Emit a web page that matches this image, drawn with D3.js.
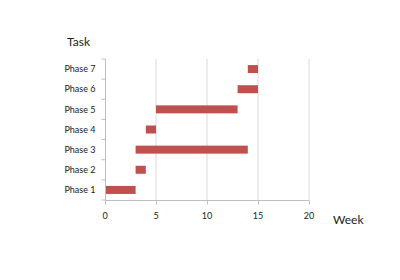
<!DOCTYPE html>
<html lang="en">
<head>
    <meta charset="UTF-8">
    <title>Task Gantt</title>
    <script src="https://d3js.org/d3.v7.min.js"></script>
    <style>
        body { margin: 0; background: #fff; }
        text { font-family: Lato, "Open Sans", sans-serif; fill: #222; }
    </style>
</head>
<body>
    <div id="chart"></div>
    <script>
        // Gantt data: start week and end week per phase
        const tasks = ['Phase 1', 'Phase 2', 'Phase 3', 'Phase 4', 'Phase 5', 'Phase 6', 'Phase 7'];
        const starts = [0, 3, 3, 4, 5, 13, 14];
        const ends = [3, 4, 14, 5, 13, 15, 15];
        const weekTicks = [0, 5, 10, 15, 20];

        const width = 400, height = 280;
        const margin = { left: 105, right: 91, top: 59, bottom: 80 };

        const svg = d3.select('#chart').append('svg')
            .attr('width', width)
            .attr('height', height);

        const x = d3.scaleLinear()
            .domain([0, 20])
            .range([margin.left, width - margin.right]);

        const y = d3.scaleBand()
            .domain(tasks.slice().reverse())
            .range([margin.top, height - margin.bottom]);

        // vertical gridlines
        svg.append('g')
            .selectAll('line')
            .data(weekTicks.slice(1))
            .enter()
            .append('line')
            .attr('x1', d => x(d)).attr('x2', d => x(d))
            .attr('y1', margin.top).attr('y2', height - margin.bottom)
            .attr('stroke', '#d9d9d9')
            .attr('stroke-width', 1);

        // bars
        const barH = 8;
        svg.append('g')
            .selectAll('rect')
            .data(tasks)
            .enter()
            .append('rect')
            .attr('x', (d, i) => x(starts[i]))
            .attr('width', (d, i) => x(ends[i]) - x(starts[i]))
            .attr('y', d => y(d) + y.bandwidth() / 2 - barH / 2)
            .attr('height', barH)
            .attr('fill', '#c0504d');

        // y axis
        const yAxisG = svg.append('g')
            .attr('transform', `translate(${margin.left + 0.5},0)`);
        yAxisG.append('line')
            .attr('y1', margin.top).attr('y2', height - margin.bottom)
            .attr('stroke', '#bfbfbf');
        yAxisG.selectAll('.tick')
            .data(d3.range(tasks.length + 1))
            .enter()
            .append('line')
            .attr('x1', -4).attr('x2', 0)
            .attr('y1', i => margin.top + i * y.step())
            .attr('y2', i => margin.top + i * y.step())
            .attr('stroke', '#bfbfbf');
        yAxisG.selectAll('text')
            .data(tasks)
            .enter()
            .append('text')
            .attr('x', -10)
            .attr('y', d => y(d) + y.bandwidth() / 2)
            .attr('dy', '0.35em')
            .attr('text-anchor', 'end')
            .style('font-size', '9px')
            .text(d => d);

        // x axis
        const xAxisG = svg.append('g')
            .attr('transform', `translate(0,${height - margin.bottom + 0.5})`);
        xAxisG.append('line')
            .attr('x1', margin.left).attr('x2', width - margin.right)
            .attr('stroke', '#bfbfbf');
        xAxisG.selectAll('line.tk')
            .data(weekTicks)
            .enter()
            .append('line')
            .attr('class', 'tk')
            .attr('x1', d => x(d) + 0.5).attr('x2', d => x(d) + 0.5)
            .attr('y1', 0).attr('y2', 4)
            .attr('stroke', '#bfbfbf');
        xAxisG.selectAll('text')
            .data(weekTicks)
            .enter()
            .append('text')
            .attr('x', d => x(d))
            .attr('y', 18)
            .attr('text-anchor', 'middle')
            .style('font-size', '9px')
            .text(d => d);

        // axis titles
        svg.append('text')
            .attr('x', 333).attr('y', 224)
            .style('font-size', '12px')
            .text('Week');
        svg.append('text')
            .attr('x', 67).attr('y', 46)
            .style('font-size', '12px')
            .text('Task');
    </script>
</body>
</html>
